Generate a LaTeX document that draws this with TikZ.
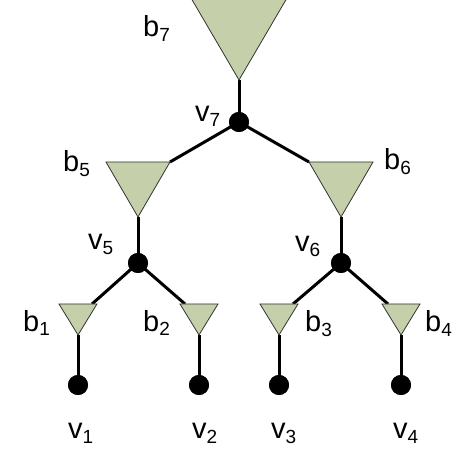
\documentclass[tikz,border=0pt]{standalone}
\usepackage{fontspec}
\setmainfont{Liberation Sans}
\definecolor{trifill}{RGB}{197,208,170}
\newcommand{\lbl}[2]{#1\raisebox{-5pt}{\fontsize{19}{19}\selectfont #2}}
\begin{document}
\begin{tikzpicture}[x=1pt,y=-1pt,
  conn/.style={line width=3pt,black},
  dot/.style={circle,fill=black,minimum size=20pt,inner sep=0pt},
  tribox/.style={fill=trifill,draw=black!80,line width=0.8pt,line join=miter},
  lab/.style={anchor=base west,inner sep=0pt,font=\fontsize{29}{29}\selectfont}]
\useasboundingbox (0,0) rectangle (474,454);
% triangles: name / apex x / apex y / top y / half width / connector inset
\foreach \n/\ax/\ay/\ty/\hw in {b7/239/80/-2/48, b5/138/217/162/32, b6/341/217/162/32,
  b1/78/335/304/19, b2/199/335/304/19, b3/279/335/304/19, b4/401/335/304/19}{
  \coordinate (\n a) at (\ax,\ay);
  \coordinate (\n l) at (\ax-\hw,\ty);
  \coordinate (\n r) at (\ax+\hw,\ty);
}
\coordinate (b1c) at (92,304);
\coordinate (b2c) at (185,304);
\coordinate (b3c) at (293,304);
\coordinate (b4c) at (388,304);
% dots
\node[dot] (v7) at (239,122) {};
\node[dot] (v5) at (138,263) {};
\node[dot] (v6) at (341,263) {};
\node[dot] (v1) at (78,385) {};
\node[dot] (v2) at (199,385) {};
\node[dot] (v3) at (279,385) {};
\node[dot] (v4) at (401,385) {};
% connectors
\begin{scope}[on background layer/.try]
\draw[conn] (b7a) -- (v7.center);
\draw[conn] (v7.center) -- (b5r);
\draw[conn] (v7.center) -- (b6l);
\draw[conn] (b5a) -- (v5.center);
\draw[conn] (b6a) -- (v6.center);
\draw[conn] (v5.center) -- (b1c);
\draw[conn] (v5.center) -- (b2c);
\draw[conn] (v6.center) -- (b3c);
\draw[conn] (v6.center) -- (b4c);
\draw[conn] (b1a) -- (v1.center);
\draw[conn] (b2a) -- (v2.center);
\draw[conn] (b3a) -- (v3.center);
\draw[conn] (b4a) -- (v4.center);
\end{scope}
\foreach \n in {b7,b5,b6,b1,b2,b3,b4}{
  \draw[tribox] (\n l) -- (\n r) -- (\n a) -- cycle;
}
\foreach \n in {v7,v5,v6,v1,v2,v3,v4}{ \fill (\n) circle (10pt); }
% labels
\node[lab] (lb7) at (143,37) {\lbl{b}{7}};
\node[lab] (lv7) at (195,122) {\lbl{v}{7}};
\node[lab] (lb5) at (63,172) {\lbl{b}{5}};
\node[lab] (lv5) at (88,250) {\lbl{v}{5}};
\node[lab] (lb6) at (384,170) {\lbl{b}{6}};
\node[lab] (lv6) at (295,252) {\lbl{v}{6}};
\node[lab] (lb1) at (23,331) {\lbl{b}{1}};
\node[lab] (lb2) at (143,331) {\lbl{b}{2}};
\node[lab] (lb3) at (305,332) {\lbl{b}{3}};
\node[lab] (lb4) at (425,332) {\lbl{b}{4}};
\node[lab] (lv1) at (68,438) {\lbl{v}{1}};
\node[lab] (lv2) at (192,438) {\lbl{v}{2}};
\node[lab] (lv3) at (271,438) {\lbl{v}{3}};
\node[lab] (lv4) at (393,438) {\lbl{v}{4}};
\end{tikzpicture}
\end{document}
